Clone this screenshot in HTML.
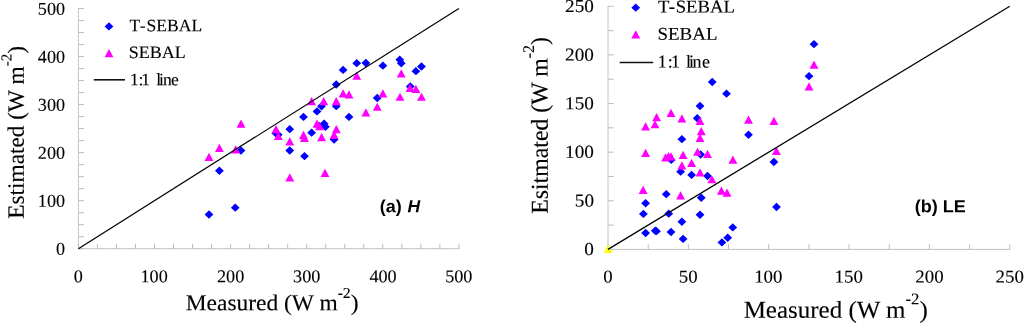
<!DOCTYPE html>
<html><head><meta charset="utf-8"><title>T-SEBAL vs SEBAL</title>
<style>html,body{margin:0;padding:0;background:#fff;overflow:hidden}svg{display:block}.s{font-family:"Liberation Serif","Times New Roman",serif;fill:#000;stroke:#000;stroke-width:.12px;text-rendering:geometricPrecision}.a{font-family:"Liberation Sans",Arial,sans-serif;font-weight:bold;fill:#000;text-rendering:geometricPrecision}</style></head><body>
<svg width="1024" height="323" viewBox="0 0 1024 323">
<rect width="1024" height="323" fill="#fff"/>
<g stroke="#bcbcbc" stroke-width="1" fill="none">
<path d="M78.4 8.05V248.7H459.4" stroke="#c2c2c2"/>
<path d="M78.4 248.70h5.5M78.4 236.69h5.5M78.4 224.69h5.5M78.4 212.68h5.5M78.4 200.67h5.5M78.4 188.66h5.5M78.4 176.66h5.5M78.4 164.65h5.5M78.4 152.64h5.5M78.4 140.63h5.5M78.4 128.62h5.5M78.4 116.62h5.5M78.4 104.61h5.5M78.4 92.60h5.5M78.4 80.60h5.5M78.4 68.59h5.5M78.4 56.58h5.5M78.4 44.57h5.5M78.4 32.56h5.5M78.4 20.56h5.5M78.4 8.55h5.5M78.40 248.7v-5M97.43 248.7v-5M116.45 248.7v-5M135.48 248.7v-5M154.50 248.7v-5M173.53 248.7v-5M192.55 248.7v-5M211.58 248.7v-5M230.60 248.7v-5M249.62 248.7v-5M268.65 248.7v-5M287.68 248.7v-5M306.70 248.7v-5M325.73 248.7v-5M344.75 248.7v-5M363.77 248.7v-5M382.80 248.7v-5M401.83 248.7v-5M420.85 248.7v-5M439.88 248.7v-5M458.90 248.7v-5"/>
</g>
<path d="M343.10 65.70L347.50 69.90L343.10 74.10L338.70 69.90Z" fill="#0000ff"/>
<path d="M356.75 58.95L361.15 63.15L356.75 67.35L352.35 63.15Z" fill="#0000ff"/>
<path d="M365.90 58.85L370.30 63.05L365.90 67.25L361.50 63.05Z" fill="#0000ff"/>
<path d="M382.90 61.45L387.30 65.65L382.90 69.85L378.50 65.65Z" fill="#0000ff"/>
<path d="M399.75 55.45L404.15 59.65L399.75 63.85L395.35 59.65Z" fill="#0000ff"/>
<path d="M401.25 59.05L405.65 63.25L401.25 67.45L396.85 63.25Z" fill="#0000ff"/>
<path d="M415.90 66.95L420.30 71.15L415.90 75.35L411.50 71.15Z" fill="#0000ff"/>
<path d="M421.50 62.35L425.90 66.55L421.50 70.75L417.10 66.55Z" fill="#0000ff"/>
<path d="M336.25 80.35L340.65 84.55L336.25 88.75L331.85 84.55Z" fill="#0000ff"/>
<path d="M410.25 82.20L414.65 86.40L410.25 90.60L405.85 86.40Z" fill="#0000ff"/>
<path d="M377.25 93.85L381.65 98.05L377.25 102.25L372.85 98.05Z" fill="#0000ff"/>
<path d="M336.25 101.95L340.65 106.15L336.25 110.35L331.85 106.15Z" fill="#0000ff"/>
<path d="M321.50 102.05L325.90 106.25L321.50 110.45L317.10 106.25Z" fill="#0000ff"/>
<path d="M349.00 112.70L353.40 116.90L349.00 121.10L344.60 116.90Z" fill="#0000ff"/>
<path d="M317.00 107.20L321.40 111.40L317.00 115.60L312.60 111.40Z" fill="#0000ff"/>
<path d="M303.50 112.70L307.90 116.90L303.50 121.10L299.10 116.90Z" fill="#0000ff"/>
<path d="M324.10 119.45L328.50 123.65L324.10 127.85L319.70 123.65Z" fill="#0000ff"/>
<path d="M325.40 122.65L329.80 126.85L325.40 131.05L321.00 126.85Z" fill="#0000ff"/>
<path d="M289.75 124.95L294.15 129.15L289.75 133.35L285.35 129.15Z" fill="#0000ff"/>
<path d="M311.60 128.45L316.00 132.65L311.60 136.85L307.20 132.65Z" fill="#0000ff"/>
<path d="M275.90 129.05L280.30 133.25L275.90 137.45L271.50 133.25Z" fill="#0000ff"/>
<path d="M278.20 130.55L282.60 134.75L278.20 138.95L273.80 134.75Z" fill="#0000ff"/>
<path d="M334.10 135.35L338.50 139.55L334.10 143.75L329.70 139.55Z" fill="#0000ff"/>
<path d="M241.00 146.35L245.40 150.55L241.00 154.75L236.60 150.55Z" fill="#0000ff"/>
<path d="M289.75 146.35L294.15 150.55L289.75 154.75L285.35 150.55Z" fill="#0000ff"/>
<path d="M304.50 151.95L308.90 156.15L304.50 160.35L300.10 156.15Z" fill="#0000ff"/>
<path d="M219.40 166.55L223.80 170.75L219.40 174.95L215.00 170.75Z" fill="#0000ff"/>
<path d="M209.00 210.35L213.40 214.55L209.00 218.75L204.60 214.55Z" fill="#0000ff"/>
<path d="M235.25 203.45L239.65 207.65L235.25 211.85L230.85 207.65Z" fill="#0000ff"/>
<path d="M319.20 121.85L323.60 126.05L319.20 130.25L314.80 126.05Z" fill="#0000ff"/>
<path d="M356.75 71.65L361.20 79.85L352.30 79.85Z" fill="#ff00ff"/>
<path d="M401.25 69.25L405.70 77.45L396.80 77.45Z" fill="#ff00ff"/>
<path d="M343.10 89.25L347.55 97.45L338.65 97.45Z" fill="#ff00ff"/>
<path d="M349.00 90.35L353.45 98.55L344.55 98.55Z" fill="#ff00ff"/>
<path d="M382.90 89.25L387.35 97.45L378.45 97.45Z" fill="#ff00ff"/>
<path d="M400.00 92.65L404.45 100.85L395.55 100.85Z" fill="#ff00ff"/>
<path d="M410.00 83.85L414.45 92.05L405.55 92.05Z" fill="#ff00ff"/>
<path d="M415.90 84.75L420.35 92.95L411.45 92.95Z" fill="#ff00ff"/>
<path d="M421.50 92.65L425.95 100.85L417.05 100.85Z" fill="#ff00ff"/>
<path d="M323.75 97.00L328.20 105.20L319.30 105.20Z" fill="#ff00ff"/>
<path d="M336.25 97.00L340.70 105.20L331.80 105.20Z" fill="#ff00ff"/>
<path d="M311.60 97.00L316.05 105.20L307.15 105.20Z" fill="#ff00ff"/>
<path d="M377.25 102.65L381.70 110.85L372.80 110.85Z" fill="#ff00ff"/>
<path d="M365.90 108.25L370.35 116.45L361.45 116.45Z" fill="#ff00ff"/>
<path d="M241.00 119.50L245.45 127.70L236.55 127.70Z" fill="#ff00ff"/>
<path d="M317.00 119.50L321.45 127.70L312.55 127.70Z" fill="#ff00ff"/>
<path d="M319.50 122.00L323.95 130.20L315.05 130.20Z" fill="#ff00ff"/>
<path d="M276.00 125.05L280.45 133.25L271.55 133.25Z" fill="#ff00ff"/>
<path d="M336.30 125.05L340.75 133.25L331.85 133.25Z" fill="#ff00ff"/>
<path d="M278.30 131.85L282.75 140.05L273.85 140.05Z" fill="#ff00ff"/>
<path d="M289.75 137.35L294.20 145.55L285.30 145.55Z" fill="#ff00ff"/>
<path d="M303.50 130.75L307.95 138.95L299.05 138.95Z" fill="#ff00ff"/>
<path d="M304.50 133.85L308.95 142.05L300.05 142.05Z" fill="#ff00ff"/>
<path d="M321.60 133.00L326.05 141.20L317.15 141.20Z" fill="#ff00ff"/>
<path d="M334.10 130.75L338.55 138.95L329.65 138.95Z" fill="#ff00ff"/>
<path d="M235.60 145.25L240.05 153.45L231.15 153.45Z" fill="#ff00ff"/>
<path d="M219.40 143.85L223.85 152.05L214.95 152.05Z" fill="#ff00ff"/>
<path d="M209.00 152.75L213.45 160.95L204.55 160.95Z" fill="#ff00ff"/>
<path d="M289.75 173.25L294.20 181.45L285.30 181.45Z" fill="#ff00ff"/>
<path d="M325.00 168.85L329.45 177.05L320.55 177.05Z" fill="#ff00ff"/>
<path d="M78.4 248.7L458.9 8.55" stroke="#000" stroke-width="1.25" fill="none"/>
<path d="M109.00 22.20L113.40 26.40L109.00 30.60L104.60 26.40Z" fill="#0000ff"/>
<path d="M109.00 48.95L113.45 57.15L104.55 57.15Z" fill="#ff00ff"/>
<path d="M93.75 79.8H125" stroke="#111" stroke-width="1.6"/>
<g stroke="#bcbcbc" stroke-width="1" fill="none">
<path d="M608.0 5.8V249.4H1010.3" stroke="#c2c2c2"/>
<path d="M608.0 249.40h5.5M608.0 225.09h5.5M608.0 200.78h5.5M608.0 176.47h5.5M608.0 152.16h5.5M608.0 127.85h5.5M608.0 103.54h5.5M608.0 79.23h5.5M608.0 54.92h5.5M608.0 30.61h5.5M608.0 6.30h5.5M608.00 249.4v-5M648.18 249.4v-5M688.36 249.4v-5M728.54 249.4v-5M768.72 249.4v-5M808.90 249.4v-5M849.08 249.4v-5M889.26 249.4v-5M929.44 249.4v-5M969.62 249.4v-5M1009.80 249.4v-5"/>
</g>
<path d="M643.40 209.70L647.80 213.90L643.40 218.10L639.00 213.90Z" fill="#0000ff"/>
<path d="M668.75 209.45L673.15 213.65L668.75 217.85L664.35 213.65Z" fill="#0000ff"/>
<path d="M700.00 210.55L704.40 214.75L700.00 218.95L695.60 214.75Z" fill="#0000ff"/>
<path d="M681.90 217.55L686.30 221.75L681.90 225.95L677.50 221.75Z" fill="#0000ff"/>
<path d="M645.60 228.85L650.00 233.05L645.60 237.25L641.20 233.05Z" fill="#0000ff"/>
<path d="M655.25 226.55L659.65 230.75L655.25 234.95L650.85 230.75Z" fill="#0000ff"/>
<path d="M656.50 226.95L660.90 231.15L656.50 235.35L652.10 231.15Z" fill="#0000ff"/>
<path d="M671.00 227.85L675.40 232.05L671.00 236.25L666.60 232.05Z" fill="#0000ff"/>
<path d="M683.10 234.70L687.50 238.90L683.10 243.10L678.70 238.90Z" fill="#0000ff"/>
<path d="M721.90 238.20L726.30 242.40L721.90 246.60L717.50 242.40Z" fill="#0000ff"/>
<path d="M727.70 233.55L732.10 237.75L727.70 241.95L723.30 237.75Z" fill="#0000ff"/>
<path d="M680.60 167.45L685.00 171.65L680.60 175.85L676.20 171.65Z" fill="#0000ff"/>
<path d="M691.60 170.70L696.00 174.90L691.60 179.10L687.20 174.90Z" fill="#0000ff"/>
<path d="M707.50 171.85L711.90 176.05L707.50 180.25L703.10 176.05Z" fill="#0000ff"/>
<path d="M666.25 189.95L670.65 194.15L666.25 198.35L661.85 194.15Z" fill="#0000ff"/>
<path d="M645.60 199.05L650.00 203.25L645.60 207.45L641.20 203.25Z" fill="#0000ff"/>
<path d="M701.25 193.55L705.65 197.75L701.25 201.95L696.85 197.75Z" fill="#0000ff"/>
<path d="M681.90 134.95L686.30 139.15L681.90 143.35L677.50 139.15Z" fill="#0000ff"/>
<path d="M700.60 150.35L705.00 154.55L700.60 158.75L696.20 154.55Z" fill="#0000ff"/>
<path d="M671.25 155.70L675.65 159.90L671.25 164.10L666.85 159.90Z" fill="#0000ff"/>
<path d="M726.50 89.45L730.90 93.65L726.50 97.85L722.10 93.65Z" fill="#0000ff"/>
<path d="M700.00 101.85L704.40 106.05L700.00 110.25L695.60 106.05Z" fill="#0000ff"/>
<path d="M697.25 114.05L701.65 118.25L697.25 122.45L692.85 118.25Z" fill="#0000ff"/>
<path d="M712.25 77.85L716.65 82.05L712.25 86.25L707.85 82.05Z" fill="#0000ff"/>
<path d="M748.50 130.55L752.90 134.75L748.50 138.95L744.10 134.75Z" fill="#0000ff"/>
<path d="M773.90 157.85L778.30 162.05L773.90 166.25L769.50 162.05Z" fill="#0000ff"/>
<path d="M776.50 202.85L780.90 207.05L776.50 211.25L772.10 207.05Z" fill="#0000ff"/>
<path d="M732.75 223.20L737.15 227.40L732.75 231.60L728.35 227.40Z" fill="#0000ff"/>
<path d="M814.00 39.95L818.40 44.15L814.00 48.35L809.60 44.15Z" fill="#0000ff"/>
<path d="M809.00 71.95L813.40 76.15L809.00 80.35L804.60 76.15Z" fill="#0000ff"/>
<path d="M643.10 185.75L647.55 193.95L638.65 193.95Z" fill="#ff00ff"/>
<path d="M700.00 168.25L704.45 176.45L695.55 176.45Z" fill="#ff00ff"/>
<path d="M711.90 175.15L716.35 183.35L707.45 183.35Z" fill="#ff00ff"/>
<path d="M680.60 191.25L685.05 199.45L676.15 199.45Z" fill="#ff00ff"/>
<path d="M721.40 186.55L725.85 194.75L716.95 194.75Z" fill="#ff00ff"/>
<path d="M727.00 188.45L731.45 196.65L722.55 196.65Z" fill="#ff00ff"/>
<path d="M645.60 148.75L650.05 156.95L641.15 156.95Z" fill="#ff00ff"/>
<path d="M645.60 122.35L650.05 130.55L641.15 130.55Z" fill="#ff00ff"/>
<path d="M701.25 127.00L705.70 135.20L696.80 135.20Z" fill="#ff00ff"/>
<path d="M700.00 133.85L704.45 142.05L695.55 142.05Z" fill="#ff00ff"/>
<path d="M665.60 153.25L670.05 161.45L661.15 161.45Z" fill="#ff00ff"/>
<path d="M668.50 152.00L672.95 160.20L664.05 160.20Z" fill="#ff00ff"/>
<path d="M671.00 152.25L675.45 160.45L666.55 160.45Z" fill="#ff00ff"/>
<path d="M683.10 150.85L687.55 159.05L678.65 159.05Z" fill="#ff00ff"/>
<path d="M697.50 147.65L701.95 155.85L693.05 155.85Z" fill="#ff00ff"/>
<path d="M707.50 149.75L711.95 157.95L703.05 157.95Z" fill="#ff00ff"/>
<path d="M691.60 158.85L696.05 167.05L687.15 167.05Z" fill="#ff00ff"/>
<path d="M681.90 161.35L686.35 169.55L677.45 169.55Z" fill="#ff00ff"/>
<path d="M671.00 108.75L675.45 116.95L666.55 116.95Z" fill="#ff00ff"/>
<path d="M656.60 113.00L661.05 121.20L652.15 121.20Z" fill="#ff00ff"/>
<path d="M681.90 114.35L686.35 122.55L677.45 122.55Z" fill="#ff00ff"/>
<path d="M700.00 116.75L704.45 124.95L695.55 124.95Z" fill="#ff00ff"/>
<path d="M655.00 120.15L659.45 128.35L650.55 128.35Z" fill="#ff00ff"/>
<path d="M748.50 115.50L752.95 123.70L744.05 123.70Z" fill="#ff00ff"/>
<path d="M773.90 116.75L778.35 124.95L769.45 124.95Z" fill="#ff00ff"/>
<path d="M809.00 82.35L813.45 90.55L804.55 90.55Z" fill="#ff00ff"/>
<path d="M776.40 146.75L780.85 154.95L771.95 154.95Z" fill="#ff00ff"/>
<path d="M732.90 155.50L737.35 163.70L728.45 163.70Z" fill="#ff00ff"/>
<path d="M814.00 60.50L818.45 68.70L809.55 68.70Z" fill="#ff00ff"/>
<path d="M608.10 244.75L612.30 252.95L603.90 252.95Z" fill="#ffff00"/>
<path d="M608.0 249.4L1009.8 6.3" stroke="#000" stroke-width="1.25" fill="none"/>
<path d="M635.75 3.45L640.15 7.65L635.75 11.85L631.35 7.65Z" fill="#0000ff"/>
<path d="M635.75 30.25L640.20 38.45L631.30 38.45Z" fill="#ff00ff"/>
<path d="M619.7 62.4H653.2" stroke="#111" stroke-width="1.5"/>
<text class="s" font-size="17.5" transform="rotate(0.04 130 85)" y="85.2" x="130.1 138.6 141.3 150 156.3 159.1 163.1 171.1">1:1 line</text>
<text class="s" font-size="18" transform="rotate(0.04 658 67)" y="67.4" x="657.8 667.8 671.1 680 685.9 688.9 692.6 701.9">1:1 line</text>
<text class="s" transform="translate(0 31.06) rotate(0.04) scale(1.0028 1)" font-size="17.5" x="129.19 139.46 146.13">T-SEBAL</text>
<text class="s" transform="translate(128.82 58.00) rotate(0.04) scale(1.0272 1)" font-size="17.5">SEBAL</text>
<text class="a" transform="translate(379.83 212.20) rotate(0.04) scale(1.0278 1)" font-size="17.5">(a)</text>
<text class="a" transform="translate(407.55 212.20) rotate(0.04) scale(1.0039 1)" font-size="17.5"><tspan font-style="italic">H</tspan></text>
<text class="s" transform="translate(185.73 310.20) rotate(0.04) scale(1.0332 1)" font-size="22.7">Measured (W m<tspan font-size="15.2" dy="-12.2">-2</tspan><tspan dy="12.2">)</tspan></text>
<text class="s" transform="translate(23.75 218.00) rotate(-90.04) translate(-0.75 0) scale(0.9971 1)" font-size="23.4">Estimated (W m<tspan font-size="15.2" dy="-12.2">-2</tspan><tspan dy="12.2">)</tspan></text>
<text class="s" transform="translate(0 11.94) rotate(0.04) scale(1.0393 1)" font-size="18.0" x="633.08 643.36 650.17">T-SEBAL</text>
<text class="s" transform="translate(657.43 39.80) rotate(0.04) scale(1.0530 1)" font-size="18.0">SEBAL</text>
<text class="a" transform="translate(914.83 212.20) rotate(0.04) scale(1.0292 1)" font-size="17.5">(b) LE</text>
<text class="s" transform="translate(743.63 317.70) rotate(0.04) scale(1.0329 1)" font-size="24.2">Measured (W m<tspan font-size="16.2" dy="-13.6">-2</tspan><tspan dy="13.6">)</tspan></text>
<text class="s" transform="translate(547.70 213.10) rotate(-90.04) translate(-0.74 0) scale(0.9845 1)" font-size="24.2">Esitmated (W m<tspan font-size="16.2" dy="-13.6">-2</tspan><tspan dy="13.6">)</tspan></text>
<text class="s" transform="translate(55.97 254.80) rotate(0.04) scale(1.01 1)" font-size="18.0">0</text>
<text class="s" transform="translate(73.86 282.30) rotate(0.04) scale(1.01 1)" font-size="18.0">0</text>
<text class="s" transform="translate(37.79 206.77) rotate(0.04) scale(1.01 1)" font-size="18.0">100</text>
<text class="s" transform="translate(140.49 282.30) rotate(0.04) scale(1.01 1)" font-size="18.0">100</text>
<text class="s" transform="translate(37.79 158.74) rotate(0.04) scale(1.01 1)" font-size="18.0">200</text>
<text class="s" transform="translate(216.97 282.30) rotate(0.04) scale(1.01 1)" font-size="18.0">200</text>
<text class="s" transform="translate(37.79 110.71) rotate(0.04) scale(1.01 1)" font-size="18.0">300</text>
<text class="s" transform="translate(293.07 282.30) rotate(0.04) scale(1.01 1)" font-size="18.0">300</text>
<text class="s" transform="translate(37.79 62.68) rotate(0.04) scale(1.01 1)" font-size="18.0">400</text>
<text class="s" transform="translate(369.42 282.30) rotate(0.04) scale(1.01 1)" font-size="18.0">400</text>
<text class="s" transform="translate(37.79 14.65) rotate(0.04) scale(1.01 1)" font-size="18.0">500</text>
<text class="s" transform="translate(445.14 282.30) rotate(0.04) scale(1.01 1)" font-size="18.0">500</text>
<text class="s" transform="translate(584.28 255.10) rotate(0.04) scale(1.05 1)" font-size="18.3">0</text>
<text class="s" transform="translate(603.27 282.60) rotate(0.04) scale(1.05 1)" font-size="18.0">0</text>
<text class="s" transform="translate(574.83 206.48) rotate(0.04) scale(1.05 1)" font-size="18.3">50</text>
<text class="s" transform="translate(678.78 282.60) rotate(0.04) scale(1.05 1)" font-size="18.0">50</text>
<text class="s" transform="translate(565.11 157.86) rotate(0.04) scale(1.05 1)" font-size="18.3">100</text>
<text class="s" transform="translate(754.15 282.60) rotate(0.04) scale(1.05 1)" font-size="18.0">100</text>
<text class="s" transform="translate(565.11 109.24) rotate(0.04) scale(1.05 1)" font-size="18.3">150</text>
<text class="s" transform="translate(834.51 282.60) rotate(0.04) scale(1.05 1)" font-size="18.0">150</text>
<text class="s" transform="translate(565.11 60.62) rotate(0.04) scale(1.05 1)" font-size="18.3">200</text>
<text class="s" transform="translate(915.26 282.60) rotate(0.04) scale(1.05 1)" font-size="18.0">200</text>
<text class="s" transform="translate(565.11 12.00) rotate(0.04) scale(1.05 1)" font-size="18.3">250</text>
<text class="s" transform="translate(995.62 282.60) rotate(0.04) scale(1.05 1)" font-size="18.0">250</text>
</svg></body></html>
